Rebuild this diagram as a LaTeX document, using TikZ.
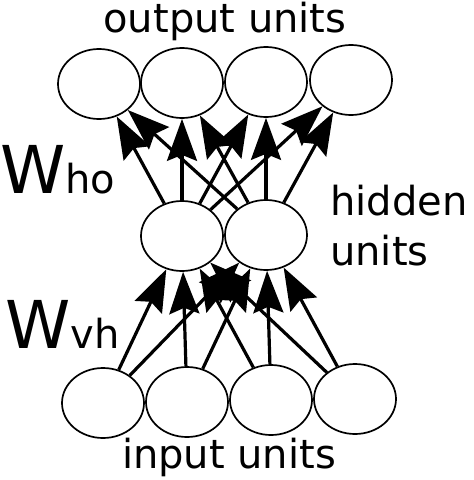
\documentclass[tikz,border=0pt]{standalone}
\usepackage{fontspec}
\setmainfont{DejaVu Sans}
\usepackage{tikz}
\usetikzlibrary{arrows.meta}
\usetikzlibrary{shapes}
\tikzset{
    neuron/.style={draw=black, ellipse, line width=1.7pt, fill=white,
        minimum width=82pt, minimum height=70pt, inner sep=0pt},
    synapse/.style={draw=black, line width=3.2pt,
        -{Stealth[length=42pt, width=30pt, inset=6pt]}},
    caption/.style={inner sep=0pt, font=\fontsize{40}{44}\selectfont},
    bigw/.style={inner sep=0pt, anchor=base west},
}
\newcommand{\wsub}[1]{{\fontsize{66}{70}\selectfont W}{\fontsize{40}{44}\selectfont #1}}

\begin{document}
\begin{tikzpicture}[x=1pt, y=-1pt]
	\useasboundingbox (0,0) rectangle (474,480);
	% units
	\node[neuron] (out1) at (99,84) {};
	\node[neuron] (out2) at (182,83) {};
	\node[neuron] (out3) at (266,82) {};
	\node[neuron] (out4) at (351,80) {};
	\node[neuron] (hid1) at (182,236) {};
	\node[neuron] (hid2) at (266,235) {};
	\node[neuron] (in1) at (103,403) {};
	\node[neuron] (in2) at (187,402) {};
	\node[neuron] (in3) at (271,400) {};
	\node[neuron] (in4) at (355,399) {};
	% hidden to output
	\draw[synapse] (hid1) -- (out1);
	\draw[synapse] (hid1) -- (out2);
	\draw[synapse] (hid1) -- (out3);
	\draw[synapse] (hid1) -- (out4);
	\draw[synapse] (hid2) -- (out1);
	\draw[synapse] (hid2) -- (out2);
	\draw[synapse] (hid2) -- (out3);
	\draw[synapse] (hid2) -- (out4);
	% input to hidden
	\draw[synapse] (in1) -- (hid1);
	\draw[synapse] (in1) -- (hid2);
	\draw[synapse] (in2) -- (hid1);
	\draw[synapse] (in2) -- (hid2);
	\draw[synapse] (in3) -- (hid1);
	\draw[synapse] (in3) -- (hid2);
	\draw[synapse] (in4) -- (hid1);
	\draw[synapse] (in4) -- (hid2);
	% texts
	\node[caption, anchor=base] (outtext) at (225,32) {output units};
	\node[caption, anchor=base west] (hidtext) at (330,215) {hidden};
	\node[caption, anchor=base west] (unitstext) at (330,265) {units};
	\node[caption, anchor=base] (intext) at (229,468) {input units};
	\node[bigw] (who) at (0,193) {\wsub{ho}};
	\node[bigw] (wvh) at (5,348) {\wsub{vh}};
\end{tikzpicture}
\end{document}
